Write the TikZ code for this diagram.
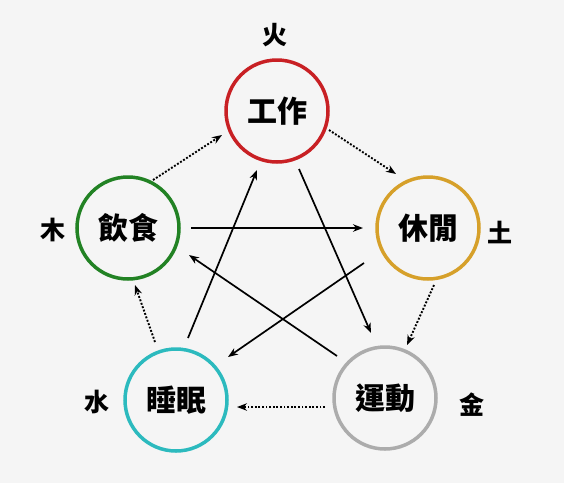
\documentclass[tikz,border=0pt]{standalone}
\usepackage{fontspec}
\newfontfamily\cjk{Noto Sans CJK TC}
\usetikzlibrary{arrows.meta,calc}
\definecolor{bgc}{RGB}{245,245,245}
\definecolor{redc}{RGB}{200,32,36}
\definecolor{goldc}{RGB}{214,160,42}
\definecolor{grayc}{RGB}{172,172,172}
\definecolor{tealc}{RGB}{44,186,190}
\definecolor{greenc}{RGB}{34,130,36}
\begin{document}
\begin{tikzpicture}[x=1pt,y=-1pt,
  ring/.style={circle, draw, minimum size=102pt, line width=3.5pt, inner sep=0pt,
    font=\cjk\bfseries\fontsize{30}{32}\selectfont},
  elem/.style={font=\cjk\bfseries\fontsize{25}{27}\selectfont, inner sep=0pt},
  mainarr/.style={line width=1.7pt, -{Stealth[length=10pt,width=7.5pt]}},
  dotarr/.style={line width=1.9pt, dash pattern=on 1.9pt off 1.7pt, -{Stealth[length=10pt,width=7.5pt]}}]
\fill[bgc] (0,0) rectangle (564,483);
\useasboundingbox (0,0) rectangle (564,483);
% circles
\node[ring, draw=redc]   (W) at (277,111) {工作};
\node[ring, draw=goldc]  (L) at (428,228) {休閒};
\node[ring, draw=grayc]  (M) at (385,398) {運動};
\node[ring, draw=tealc]  (S) at (176,400) {睡眠};
\node[ring, draw=greenc] (F) at (128,228) {飲食};
% element labels
\node[elem] (fire)  at (275,35)  {火};
\node[elem] (earth) at (500,232) {土};
\node[elem] (metal) at (472,405) {金};
\node[elem] (water) at (97,402)  {水};
\node[elem] (wood)  at (53,230)  {木};
% solid arrows (star)
\draw[mainarr] ($(F)+(63,0)$)    -- ($(L)+(-65,0)$);
\draw[mainarr] ($(S)+(12,-62)$)  -- ($(W)+(-20,59)$);
\draw[mainarr] ($(W)+(22,58)$)   -- ($(M)+(-14,-65)$);
\draw[mainarr] ($(L)+(-64,35)$)  -- ($(S)+(52,-43)$);
\draw[mainarr] ($(M)+(-48,-42)$) -- ($(F)+(61,27)$);
% dotted arrows (cycle)
\draw[dotarr] ($(F)+(25,-48)$)  -- ($(W)+(-55,24)$);
\draw[dotarr] ($(W)+(52,19)$)   -- ($(L)+(-32,-54)$);
\draw[dotarr] ($(L)+(6,57)$)    -- ($(M)+(22,-53)$);
\draw[dotarr] ($(M)+(-60,9)$)   -- ($(S)+(61,7)$);
\draw[dotarr] ($(S)+(-21,-58)$) -- ($(F)+(7,57)$);
\end{tikzpicture}
\end{document}
